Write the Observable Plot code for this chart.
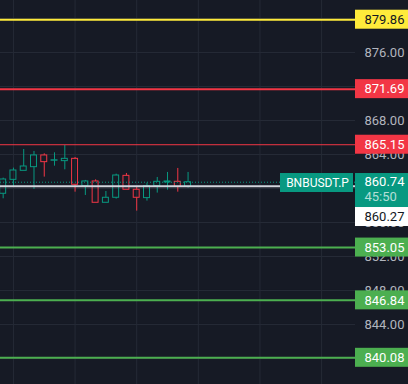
<!DOCTYPE html>
<html><head><meta charset="utf-8">
<script src="https://cdn.jsdelivr.net/npm/d3@7"></script>
<script src="https://cdn.jsdelivr.net/npm/@observablehq/plot@0.6"></script>
<style>
html,body{margin:0;padding:0;background:#161a25;overflow:hidden}
#chart svg{display:block}
</style></head><body><div id="chart"></div>
<script>
// ---- data ----
const candleOpen  = [859.38, 861.02, 862.08, 862.51, 863.89, 863.27, 863.22, 863.49, 860.28, 860.83, 858.32, 858.91, 861.49, 859.85, 858.87, 860.28, 860.71, 860.79, 860.20];
const candleHigh  = [861.22, 862.40, 864.59, 864.36, 864.08, 864.20, 865.06, 863.65, 860.95, 861.02, 859.65, 861.69, 861.77, 860.16, 860.63, 861.30, 861.89, 862.36, 861.89];
const candleLow   = [858.79, 860.16, 862.08, 859.89, 861.34, 862.63, 862.20, 859.57, 859.18, 858.32, 858.32, 858.75, 859.85, 857.34, 858.52, 859.46, 859.81, 859.57, 860.04];
const candleClose = [861.06, 862.12, 862.59, 863.89, 863.10, 863.32, 863.49, 860.44, 860.83, 858.32, 858.91, 861.53, 859.85, 858.91, 860.28, 860.79, 860.83, 860.20, 860.74];
const priceTicks  = [840, 844, 848, 852, 856, 860, 864, 868, 872, 876, 880];
const levelPrices = [879.86, 871.69, 865.15, 853.05, 846.84, 840.08];
const levelKinds  = ["target", "resistance", "resistanceThin", "support", "support", "support"];
const symbolName  = "BNBUSDT.P";
const lastPrice   = 860.74;
const countdown   = "45:50";
const markPrice   = 860.27;
const gridEvery   = 6; // candles between vertical grid lines

// ---- styles ----
const BG = "#161a25", GRID = "#252a36", AXIS_TXT = "#b2b5be";
const UP = "#089981", DOWN = "#f23645";
const kindColor = {target: "#ffeb3b", resistance: "#f23645", resistanceThin: "#f23645", support: "#4caf50"};
const kindText  = {target: "#131722", resistance: "#ffffff", resistanceThin: "#ffffff", support: "#ffffff"};
const kindWidth = {target: 2, resistance: 2, resistanceThin: 1, support: 2};
const FONT = "Roboto, 'Noto Sans', sans-serif";

const candles = candleOpen.map((o, i) => ({
  i, open: o, high: candleHigh[i], low: candleLow[i], close: candleClose[i],
  up: candleClose[i] >= o
}));
const levels = levelPrices.map((p, k) => ({price: p, kind: levelKinds[k]}));
const gridX = d3.range(1, candles.length + 20, gridEvery);
// price-axis labels fully hidden behind a price label box are not drawn (as on the price scale)
const labelPrices = levelPrices.concat([lastPrice]);
const visibleTicks = priceTicks.filter(t => labelPrices.every(p => Math.abs(p - t) > 0.5));

const chart = Plot.plot({
  width: 408, height: 384,
  marginLeft: 0, marginRight: 53, marginTop: 0, marginBottom: 0,
  style: {background: BG, fontFamily: FONT, fontSize: "13px", color: AXIS_TXT},
  x: {domain: [-0.26, 34.3], axis: null},
  y: {domain: [836.94, 882.12], axis: null},
  marks: [
    // grid
    Plot.ruleY(priceTicks, {y: d => d, stroke: GRID, strokeWidth: 1}),
    Plot.ruleX(gridX.filter(v => v < 34.3), {x: d => d, stroke: GRID, strokeWidth: 1}),
    // price axis labels
    Plot.text(visibleTicks, {y: d => d, text: d => d.toFixed(2), frameAnchor: "right", textAnchor: "start", dx: 9, fill: AXIS_TXT, fontSize: 13}),
    // candles: wicks (upper & lower) then hollow bodies
    Plot.ruleX(candles, {x: "i", y1: "high", y2: d => Math.max(d.open, d.close), stroke: d => d.up ? UP : DOWN, strokeWidth: 1}),
    Plot.ruleX(candles, {x: "i", y1: "low", y2: d => Math.min(d.open, d.close), stroke: d => d.up ? UP : DOWN, strokeWidth: 1}),
    Plot.rect(candles, {x1: d => d.i - 0.29, x2: d => d.i + 0.29, y1: "open", y2: "close", fill: "none", stroke: d => d.up ? UP : DOWN, strokeWidth: 1}),
    // level lines
    Plot.ruleY(levels, {y: "price", stroke: d => kindColor[d.kind], strokeWidth: d => kindWidth[d.kind]}),
    Plot.ruleY([markPrice], {y: d => d, stroke: "#d1d4dc", strokeWidth: 2}),
    Plot.ruleY([lastPrice], {y: d => d, stroke: UP, strokeWidth: 1, strokeDasharray: "1,2"}),
    // level labels on the price axis
    Plot.rect(levels, {y1: "price", y2: "price", insetTop: -9.5, insetBottom: -9.5, insetLeft: 355, insetRight: -53, fill: d => kindColor[d.kind]}),
    Plot.text(levels, {y: "price", text: d => d.price.toFixed(2), frameAnchor: "right", textAnchor: "start", dx: 9, fill: d => kindText[d.kind], fontSize: 13}),
    // last price label (with countdown)
    Plot.rect([lastPrice], {y1: d => d, y2: d => d, insetTop: -8.7, insetBottom: -25.3, insetLeft: 355, insetRight: -53, fill: UP}),
    Plot.text([lastPrice], {y: d => d, text: d => d.toFixed(2), frameAnchor: "right", textAnchor: "start", dx: 9, fill: "#ffffff", fontSize: 13}),
    Plot.text([countdown], {y: () => lastPrice, text: d => d, frameAnchor: "right", textAnchor: "start", dx: 9, dy: 15, fill: "#ffffff", fillOpacity: 0.7, fontSize: 13}),
    // mark price label stacked below
    Plot.rect([markPrice], {y1: d => d, y2: d => d, insetTop: 21.3, insetBottom: -40.3, insetLeft: 355, insetRight: -53, fill: "#ffffff"}),
    Plot.text([markPrice], {y: d => d, text: d => d.toFixed(2), frameAnchor: "right", textAnchor: "start", dx: 9, dy: 31, fill: "#131722", fontSize: 13}),
    // symbol label
    Plot.rect([lastPrice], {y1: d => d, y2: d => d, insetTop: -8.7, insetBottom: -10.3, insetLeft: 280, insetRight: 2, fill: UP}),
    Plot.text([symbolName], {y: () => lastPrice, text: d => d, frameAnchor: "right", textAnchor: "middle", dx: -38, dy: 0.8, fill: "#ffffff", fontSize: 12})
  ]
});
document.getElementById("chart").append(chart);
</script>
</body></html>
